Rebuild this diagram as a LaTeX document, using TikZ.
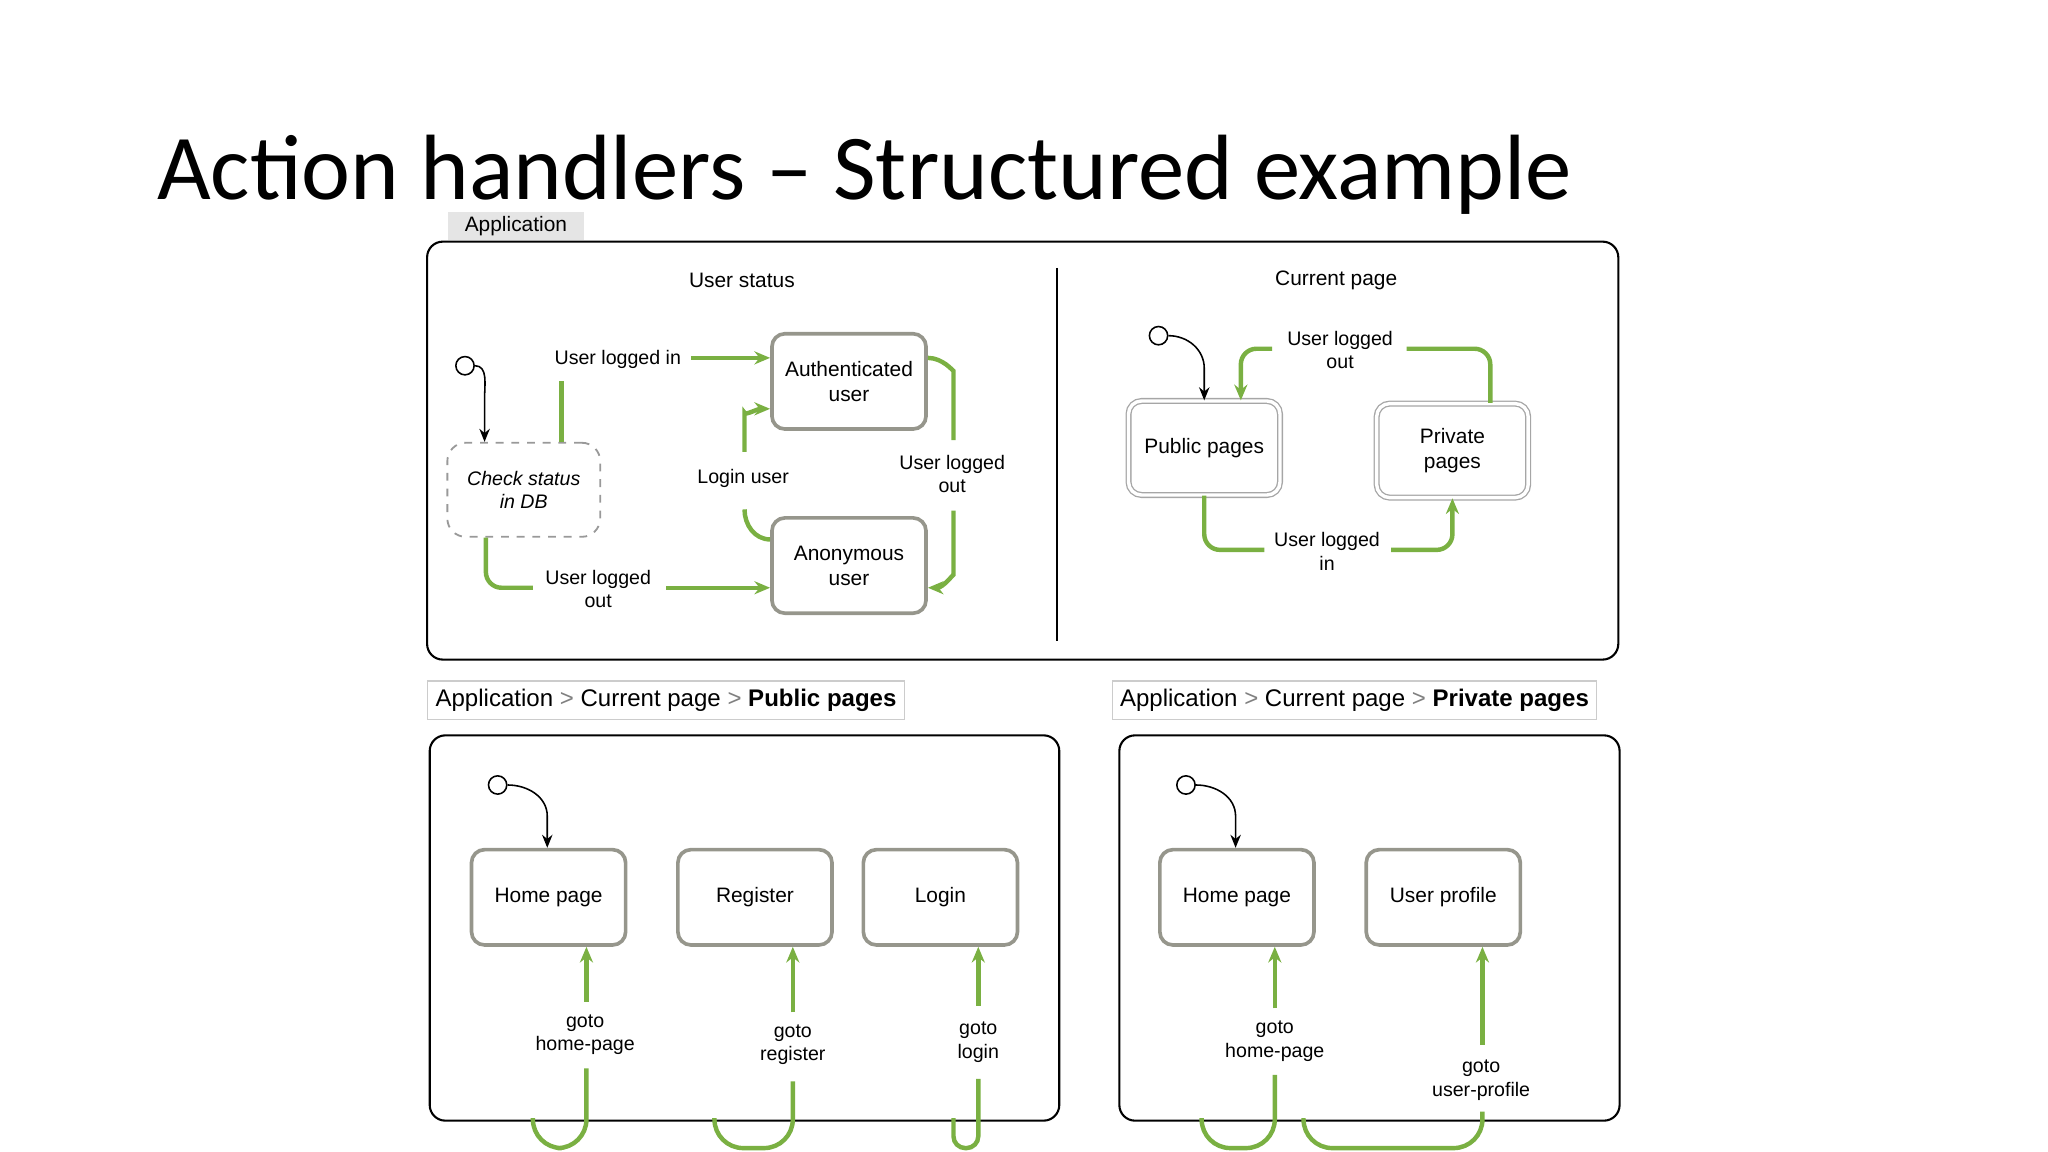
\documentclass[tikz,border=0pt]{standalone}
\usepackage{fontspec}
\setmainfont{Liberation Sans}
\newfontfamily\titlefont{Carlito}
\usetikzlibrary{arrows.meta}
\definecolor{grn}{RGB}{122,176,66}
\definecolor{stgray}{RGB}{150,150,140}
\begin{document}
\begin{tikzpicture}[x=0.5pt,y=-0.5pt,
  txt/.style={font=\fontsize{7.5}{9}\selectfont,align=center,inner sep=1pt},
  st/.style={draw=stgray,line width=1.4pt,rounded corners=5pt,minimum width=59pt,minimum height=36.5pt,txt,font=\fontsize{8}{9.5}\selectfont},
  dst/.style={draw=gray!70,double=white,double distance=1.3pt,line width=0.5pt,rounded corners=5pt,minimum width=58pt,minimum height=36pt,txt,font=\fontsize{8}{9.5}\selectfont},
  frame/.style={draw=black,line width=0.8pt,rounded corners=6pt},
  g/.style={draw=grn,line width=1.7pt,rounded corners=6pt},
  ga/.style={g,-{Stealth[length=6pt,width=5pt]}},
  ini/.style={circle,draw,line width=0.6pt,minimum size=7pt,inner sep=0pt},
  ia/.style={draw,line width=0.6pt,-{Stealth[length=5pt,width=4pt]}},
  crumb/.style={draw=gray!40,line width=0.5pt,minimum height=14pt,inner sep=3pt,font=\fontsize{9.2}{11}\selectfont,anchor=west}]
\useasboundingbox (0,0) rectangle (1568,882);
\node[anchor=base west,inner sep=0,text depth=0pt,font=\titlefont\fontsize{35.5}{38}\selectfont] (title) at (120,153) {Action handlers – Structured example};
% top frame
\node[fill=gray!20,minimum width=52pt,minimum height=11pt,inner sep=0,font=\fontsize{8}{9.5}\selectfont] (apptab) at (395,173) {Application};
\draw[frame] (327,185) rectangle (1239,505);
\draw[line width=0.8pt] (809,205) -- (809,491);
\node[txt,font=\fontsize{8}{9.5}\selectfont] (us) at (568,215) {User status};
\node[txt,font=\fontsize{8}{9.5}\selectfont] (cp) at (1023,215) {Current page};
% user status
\node[ini] (i1) at (356,280) {};
\node[draw=gray!80,dashed,line width=0.7pt,rounded corners=7pt,minimum width=58.5pt,minimum height=36pt,txt,font=\itshape\fontsize{7.5}{9}\selectfont] (chk) at (401,375) {Check status\\in DB};
\node[st] (auth) at (650,292) {Authenticated\\user};
\node[st] (anon) at (650,433) {Anonymous\\user};
\draw[ia] (i1.east) to[out=0,in=90] (371,305) -- (chk.north -| 371,0);
\node[txt] (l1) at (473,275) {User logged in};
\coordinate (l1a) at (430,292); \coordinate (l1b) at (529,274);
\draw[g] (chk.north -| 430,0) -- (l1a);
\draw[ga] (l1b) -- (auth.west |- l1b);
\node[txt] (l2) at (458,451) {User logged\\out};
\draw[g] (chk.south -| 372,0) |- (408,450);
\coordinate (l2b) at (510,450);
\draw[ga] (l2b) -- (anon.west |- l2b);
\node[txt] (l3) at (569,366) {Login user};
\draw[g] (anon.west |- 0,413) to[out=180,in=-90] (570,390);
\draw[ga] (570,346) -- (570,328) to[out=90,in=180] (auth.west |- 0,313);
\node[txt] (l4) at (729,363) {User logged\\out};
\draw[g] (auth.east |- 0,274) to[out=0,in=90] (730,296) -- (730,337);
\draw[ga] (730,391) -- (730,428) to[out=-90,in=0] (anon.east |- 0,450);
% current page
\node[ini] (i2) at (887,257) {};
\node[dst] (pub) at (922,343) {Public pages};
\node[dst] (priv) at (1112,345) {Private\\pages};
\draw[ia] (i2.east) to[out=0,in=90] (922,282) -- (pub.north);
\node[txt] (l5) at (1026,268) {User logged\\out};
\draw[g] (priv.north -| 1141,0) |- (1077,267);
\draw[ga] (974,267) -| (pub.north -| 950,0);
\node[txt] (l6) at (1016,422) {User logged\\in};
\draw[g] (pub.south) |- (968,421);
\draw[ga] (1065,421) -| (priv.south);
% breadcrumbs
\node[crumb] (bc1) at (327,536) {Application {\color{gray}>} Current page {\color{gray}>} \textbf{Public pages}};
\node[crumb] (bc2) at (851,536) {Application {\color{gray}>} Current page {\color{gray}>} \textbf{Private pages}};
\draw[frame] (329,563) rectangle (811,858);
\draw[frame] (857,563) rectangle (1240,858);
% public pages
\node[ini] (i3) at (381,601) {};
\node[st] (home1) at (420,687) {Home page};
\node[st] (reg) at (578,687) {Register};
\node[st] (login) at (720,687) {Login};
\draw[ia] (i3.east) to[out=0,in=90] (419,625) -- (home1.north -| 419,0);
\node[txt] (g1) at (448,792) {goto\\home-page};
\node[txt] (g2) at (607,800) {goto\\register};
\node[txt] (g3) at (749,798) {goto\\login};
\draw[ga] (449,767) -- (home1.south -| 449,0);
\draw[ga] (607,775) -- (reg.south -| 607,0);
\draw[ga] (749,770) -- (login.south -| 749,0);
\draw[g,rounded corners=11pt] (449,818) -- (449,879) -- (408,879) -- (408,856);
\draw[g,rounded corners=11pt] (607,828) -- (607,879) -- (547,879) -- (547,856);
\draw[g,rounded corners=4.5pt] (749,826) -- (749,879) -- (730,879) -- (730,856);
% private pages
\node[ini] (i4) at (908,601) {};
\node[st] (home2) at (947,687) {Home page};
\node[st] (prof) at (1105,687) {User profile};
\draw[ia] (i4.east) to[out=0,in=90] (946,625) -- (home2.north -| 946,0);
\node[txt] (g4) at (976,797) {goto\\home-page};
\node[txt] (g5) at (1134,827) {goto\\user-profile};
\draw[ga] (976,772) -- (home2.south -| 976,0);
\draw[ga] (1135,800) -- (prof.south -| 1135,0);
\draw[g,rounded corners=11pt] (976,823) -- (976,879) -- (920,879) -- (920,856);
\draw[g,rounded corners=11pt] (1135,851) -- (1135,879) -- (998,879) -- (998,856);
\end{tikzpicture}
\end{document}
